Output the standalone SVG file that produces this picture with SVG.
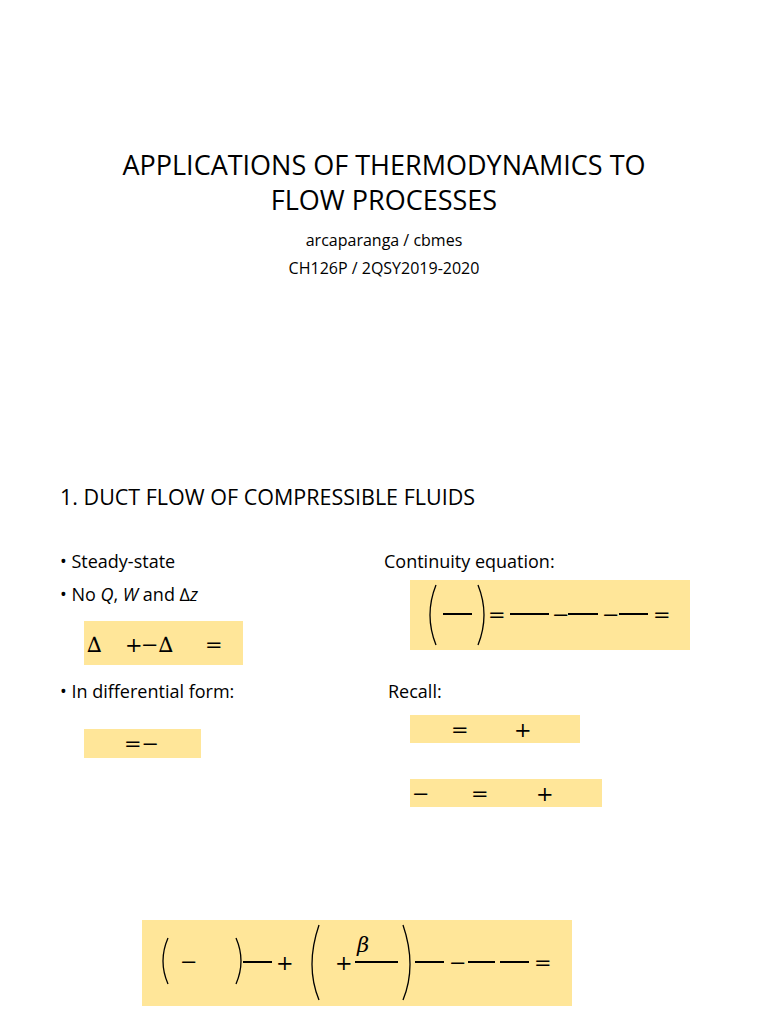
<svg xmlns="http://www.w3.org/2000/svg" width="768" height="1024" viewBox="0 0 768 1024">
<style>
.t{font-family:"Open Sans","Liberation Sans",sans-serif;fill:#000}
.m{font-family:"DejaVu Serif","Liberation Serif",serif;fill:#000;font-size:21px}
.b{fill:#FFE699}
.l{stroke:#000;stroke-width:2}
.p{fill:none;stroke:#000;stroke-width:1.3}
</style>
<rect width="768" height="1024" fill="#fff"/>
<text class="t" x="384" y="175" font-size="27" text-anchor="middle">APPLICATIONS OF THERMODYNAMICS TO</text>
<text class="t" x="384" y="210" font-size="27" text-anchor="middle">FLOW PROCESSES</text>
<text class="t" x="384" y="246" font-size="16" text-anchor="middle">arcaparanga / cbmes</text>
<text class="t" x="384" y="274" font-size="16" text-anchor="middle">CH126P / 2QSY2019-2020</text>
<text class="t" x="60" y="505" font-size="21.5">1. DUCT FLOW OF COMPRESSIBLE FLUIDS</text>
<text class="t" x="60" y="568" font-size="18">• Steady-state</text>
<text class="t" x="60" y="601" font-size="18">• No <tspan font-style="italic">Q</tspan>, <tspan font-style="italic">W</tspan> and ∆<tspan font-style="italic">z</tspan></text>
<text class="t" x="60" y="698" font-size="18">• In differential form:</text>
<text class="t" x="384" y="568" font-size="18">Continuity equation:</text>
<text class="t" x="388" y="698" font-size="18">Recall:</text>
<g id="eq1"><rect class="b" x="84" y="621" width="159" height="44"/>
<text class="m" x="87" y="652">∆</text><text class="m" x="125" y="652">+</text><text class="m" x="141" y="652">−∆</text><text class="m" x="205" y="652">=</text></g>
<g id="eq2"><rect class="b" x="84" y="729" width="117" height="29"/>
<text class="m" x="124" y="751">=−</text></g>
<g id="cont"><rect class="b" x="410" y="580" width="280" height="70"/>
<path class="p" d="M436 585 Q424 615 436 645 M478 585 Q490 615 478 645"/>
<line class="l" x1="443" y1="614" x2="472" y2="614"/>
<text class="m" x="488" y="622">=</text>
<line class="l" x1="510" y1="614" x2="549" y2="614"/>
<text class="m" x="552" y="622">−</text>
<line class="l" x1="568" y1="614" x2="598" y2="614"/>
<text class="m" x="602" y="622">−</text>
<line class="l" x1="619" y1="614" x2="648" y2="614"/>
<text class="m" x="653" y="622">=</text></g>
<g id="recall1"><rect class="b" x="410" y="715" width="170" height="28"/>
<text class="m" x="451" y="737">=</text><text class="m" x="514" y="737">+</text></g>
<g id="recall2"><rect class="b" x="410" y="779" width="192" height="28"/>
<text class="m" x="412" y="801">−</text><text class="m" x="471" y="801">=</text><text class="m" x="536" y="801">+</text></g>
<g id="eq3"><rect class="b" x="142" y="920" width="430" height="86"/>
<path class="p" d="M168 938 Q158 961 168 984 M236 938 Q246 961 236 984 M319 925 Q305 966 319 1000 M403 925 Q417 966 403 1000"/>
<text class="m" x="180" y="969">−</text>
<line class="l" x1="243" y1="962" x2="272" y2="962"/>
<text class="m" x="276" y="970">+</text>
<text class="m" x="335" y="970">+</text>
<text class="m" x="357" y="952" font-style="italic" font-size="24">β</text>
<line class="l" x1="355" y1="962" x2="398" y2="962"/>
<line class="l" x1="415" y1="962" x2="444" y2="962"/>
<text class="m" x="449" y="970">−</text>
<line class="l" x1="468" y1="962" x2="495" y2="962"/>
<line class="l" x1="500" y1="962" x2="529" y2="962"/>
<text class="m" x="534" y="970">=</text></g>
</svg>
